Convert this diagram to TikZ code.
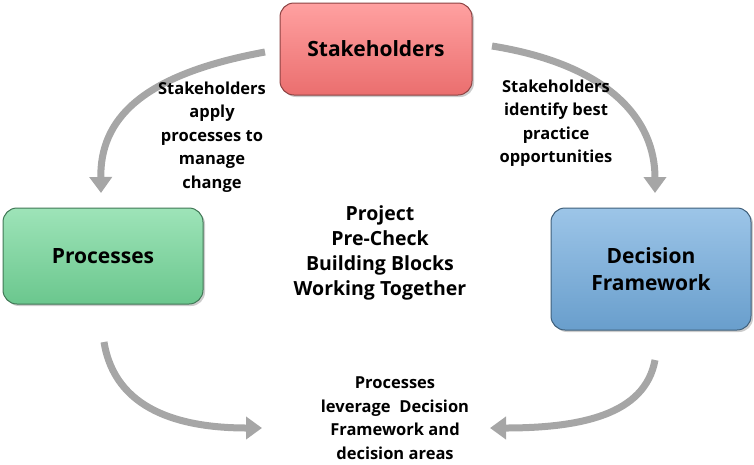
\documentclass[tikz,border=0pt]{standalone}
\usepackage{fontspec}
\setmainfont{Open Sans}
\usetikzlibrary{arrows.meta,shadows}
\definecolor{redf}{HTML}{FF7878}
\definecolor{greenf}{HTML}{74D89A}
\definecolor{bluef}{HTML}{72ACDE}
\definecolor{arr}{HTML}{A6A6A6}
\tikzset{
 box/.style={rounded corners=14pt, draw=#1!55!black, line width=1pt, top color=#1!70!white, bottom color=#1!92!black, drop shadow={shadow xshift=2pt,shadow yshift=-2pt,opacity=0.4}, text=black, font=\bfseries\fontsize{21}{27}\selectfont, align=center},
 lbl/.style={font=\bfseries\fontsize{16.5}{23.5}\selectfont, align=center},
 flow/.style={draw=arr, line width=7pt, -{Triangle[length=16pt,width=22pt]}},
}
\begin{document}
\begin{tikzpicture}[x=1pt,y=-1pt]
\useasboundingbox (0,0) rectangle (754,464);
\coordinate (a1) at (265,52); \coordinate (e1) at (101,193);
\coordinate (a2) at (492,46); \coordinate (e2) at (655,193);
\coordinate (a3) at (104,342); \coordinate (e3) at (262,428);
\coordinate (a4) at (655,360); \coordinate (e4) at (490,428);
\draw[flow] (a1) .. controls (140,75) and (100,120) .. (e1);
\draw[flow] (a2) .. controls (610,65) and (655,120) .. (e2);
\draw[flow] (a3) .. controls (115,410) and (180,428) .. (e3);
\draw[flow] (a4) .. controls (645,415) and (580,428) .. (e4);
\node[box=redf, minimum width=192pt, minimum height=92pt, text depth=-12pt] (s) at (376,49) {Stakeholders};
\node[box=greenf, minimum width=200pt, minimum height=96pt] (p) at (103,256) {Processes};
\node[box=bluef, minimum width=200pt, minimum height=122pt] (d) at (651,269) {Decision\\Framework};
\node[lbl] (t1) at (212,137) {Stakeholders\\apply\\processes to\\manage\\change};
\node[lbl] (t2) at (556,123) {Stakeholders\\identify best\\practice\\opportunities};
\node[lbl, font=\bfseries\fontsize{19.5}{25}\selectfont] (c) at (380,253) {Project\\Pre-Check\\Building Blocks\\Working Together};
\node[lbl] (b) at (395,418) {Processes\\leverage~ Decision\\Framework and\\decision areas};
\end{tikzpicture}
\end{document}
